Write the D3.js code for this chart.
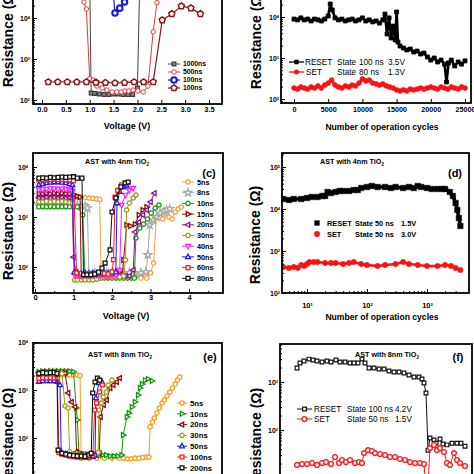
<!DOCTYPE html>
<html><head><meta charset="utf-8">
<script src="https://cdn.jsdelivr.net/npm/d3@7"></script>
<style>body{margin:0;background:#fff}svg{display:block}</style>
</head><body>
<svg id="chart" width="474" height="474"></svg>
<script>
// ================= DATA =================
// (a) Resistance vs voltage, pulse widths
const aTicksX=[0,0.5,1,1.5,2,2.5,3,3.5];
const aTicksY=[1e2,1e3,1e4];
const aLegend=["1000ns","500ns","100ns","100ns"];
const a1000=[[0.8,9e4],[1.0,9e4],[1.03,148],[1.1,144],[1.2,140],[1.3,136],[1.4,136],[1.5,140],[1.6,140],[1.7,136],[1.8,136],[1.9,136],[2.0,196],[2.05,9e4],[2.2,9e4]];
const a500=[[0.8,6e4],[0.88,2.45e4],[0.93,1.66e4],[1.0,330],[1.07,307],[1.15,219],[1.26,196],[1.36,175],[1.47,157],[1.57,157],[1.66,157],[1.74,166],[1.82,166],[1.91,175],[2.01,166],[2.12,157],[2.22,219],[2.33,4590],[2.41,23600],[2.5,6e4]];
const a100blue=[[1.47,8e4],[1.53,13200],[1.63,17400],[1.73,24500],[1.82,8e4]];
const a100pent=[[0.13,275],[0.33,275],[0.53,275],[0.73,275],[0.93,275],[1.13,270],[1.33,265],[1.53,260],[1.73,265],[1.93,275],[2.13,275],[2.33,275],[2.52,8900],[2.72,12600],[2.92,19500],[3.12,17400],[3.32,12600]];

// (b) endurance, linear cycles
const bTicksX=[0,5000,10000,15000,20000,25000];
const bTicksY=[1e2,1e3,1e4];
const bReset=[[0,8.9e3],[500,8.5e3],[1000,9.5e3],[1500,8.5e3],[2000,8.9e3],[2500,8.0e3],[3000,8.9e3],[3500,8.5e3],[4000,8.0e3],[4500,8.9e3],[5000,1.06e4],[5300,2.07e4],[5600,1.48e4],[6000,9.5e3],[6500,8.5e3],[7000,8.9e3],[7500,8.0e3],[8000,8.5e3],[8500,8.9e3],[9000,8.0e3],[9500,8.5e3],[10000,9.5e3],[10500,8.0e3],[11000,8.5e3],[11500,7.6e3],[12000,8.0e3],[12500,7.1e3],[13000,8.5e3],[13300,1.18e4],[13600,3.85e3],[13900,9.5e3],[14200,3.08e3],[14500,6.0e3],[14800,2.75e3],[15000,1.32e4],[15200,2.45e3],[15500,1.96e3],[16000,1.75e3],[16500,1.57e3],[17000,1.66e3],[17500,1.40e3],[18000,1.48e3],[18500,1.25e3],[19000,1.32e3],[19500,1.06e3],[20000,890],[20500,1000],[21000,800],[21500,890],[22000,710],[22300,260],[22600,760],[23000,890],[23500,640],[24000,800],[24500,710],[25000,850]];
const bSet=[[0,185],[500,175],[1000,196],[1500,185],[2000,175],[2500,196],[3000,185],[3500,208],[4000,185],[4500,219],[5000,245],[5500,290],[6000,219],[6500,196],[7000,185],[7500,208],[8000,196],[8500,219],[9000,208],[9500,245],[10000,308],[10500,275],[11000,290],[11500,245],[12000,232],[12500,219],[13000,232],[13500,208],[14000,196],[14500,185],[15000,166],[15500,157],[16000,166],[16500,157],[17000,175],[17500,166],[18000,175],[18500,185],[19000,175],[19500,185],[20000,196],[20500,185],[21000,175],[21500,196],[22000,185],[22500,175],[23000,196],[23500,185],[24000,175],[24500,196],[25000,185]];

// (c) AST with 4nm TiO2
const cTicksX=[0,1,2,3,4];
const cTicksY=[1e2,1e3,1e4];
const cLegend=["5ns","8ns","10ns","15ns","20ns","30ns","40ns","50ns","60ns","80ns"];
const c5=[[0.1,2.45e3],[0.2,2.45e3],[0.3,2.45e3],[0.4,2.45e3],[0.5,2.45e3],[0.6,2.45e3],[0.7,2.45e3],[0.8,2.45e3],[0.9,2.45e3],[1.0,2.45e3],[1.1,2.5e3],[1.2,2.5e3],[1.3,2.45e3],[1.4,2.4e3],[1.5,2.35e3],[1.6,2.3e3],[1.68,2.25e3],[1.72,63],[1.85,63],[2.0,63],[2.15,63],[2.3,63],[2.45,63],[2.6,63],[2.75,60],[2.9,60],[3.0,76],[3.08,120],[3.15,955],[3.24,1.0e3],[3.32,910],[3.4,1.15e3],[3.48,1.0e3],[3.56,910],[3.64,1.26e3],[3.72,1.45e3],[3.8,1.58e3]];
const c8=[[0.1,1.7e3],[0.3,1.7e3],[0.5,1.7e3],[0.7,1.7e3],[0.9,1.7e3],[1.1,1.68e3],[1.2,1.66e3],[1.3,1.66e3],[1.36,1.5e3],[1.4,76],[1.55,76],[1.7,76],[1.85,76],[2.0,76],[2.15,76],[2.3,76],[2.45,76],[2.6,76],[2.75,76],[2.88,79],[2.93,174],[2.98,690],[3.07,870],[3.16,1.0e3],[3.25,1.2e3],[3.35,1.3e3],[3.42,1.38e3],[3.5,1.45e3]];
const c10=[[0.1,1.6e3],[0.2,1.62e3],[0.3,1.6e3],[0.4,1.62e3],[0.5,1.6e3],[0.6,1.62e3],[0.7,1.6e3],[0.8,1.62e3],[0.9,1.6e3],[1.0,1.6e3],[1.1,1.6e3],[1.24,1.1e3],[1.3,60],[1.4,60],[1.5,60],[1.6,60],[1.7,60],[1.8,60],[1.9,60],[2.0,60],[2.1,60],[2.2,60],[2.3,60],[2.4,60],[2.5,60],[2.58,60],[2.62,380],[2.72,600],[2.82,720],[2.92,910],[3.02,1.2e3],[3.12,1.5e3],[3.22,1.74e3]];
const c15=[[0.1,2.9e3],[0.2,2.9e3],[0.3,3.0e3],[0.4,2.9e3],[0.5,3.0e3],[0.6,2.9e3],[0.7,3.0e3],[0.8,2.9e3],[0.9,2.9e3],[1.0,2.8e3],[1.1,2.6e3],[1.17,2.5e3],[1.2,72],[1.3,72],[1.4,69],[1.5,72],[1.6,72],[1.7,69],[1.8,72],[1.9,72],[2.0,72],[2.1,69],[2.2,72],[2.27,72],[2.3,138],[2.38,690],[2.48,660],[2.6,720],[2.7,1.1e3],[2.8,1.38e3],[2.9,1.58e3]];
const c20=[[0.1,2.4e3],[0.2,2.4e3],[0.3,2.45e3],[0.4,2.4e3],[0.5,2.45e3],[0.6,2.4e3],[0.7,2.45e3],[0.8,2.4e3],[0.9,2.4e3],[0.97,2.3e3],[1.0,158],[1.06,79],[1.15,66],[1.25,66],[1.35,66],[1.45,66],[1.55,66],[1.65,66],[1.75,66],[1.85,66],[1.95,69],[2.05,66],[2.15,66],[2.25,66],[2.35,66],[2.45,66],[2.55,87],[2.6,500],[2.7,790],[2.8,1.1e3],[2.9,1.38e3],[3.0,2.0e3],[3.1,3.0e3]];
const c30=[[0.1,2.0e3],[0.2,2.0e3],[0.3,2.05e3],[0.4,2.0e3],[0.5,2.05e3],[0.6,2.0e3],[0.7,2.05e3],[0.8,2.0e3],[0.9,1.95e3],[0.98,1.9e3],[1.03,55],[1.1,55],[1.2,55],[1.3,55],[1.4,55],[1.5,55],[1.6,57],[1.7,60],[1.8,63],[1.9,63],[2.0,63],[2.1,63],[2.2,63],[2.3,66],[2.35,138],[2.38,1.38e3],[2.45,1.9e3],[2.55,2.4e3],[2.62,2.75e3]];
const c40=[[0.1,3.5e3],[0.2,3.6e3],[0.3,3.6e3],[0.4,3.7e3],[0.5,3.7e3],[0.6,3.6e3],[0.7,3.7e3],[0.8,3.6e3],[0.9,3.5e3],[0.97,3.3e3],[1.03,69],[1.1,69],[1.2,66],[1.3,69],[1.4,66],[1.5,69],[1.6,69],[1.7,66],[1.8,69],[1.9,66],[2.0,69],[2.1,69],[2.2,87],[2.25,1.74e3],[2.35,2.75e3],[2.45,3.4e3],[2.55,3.8e3]];
const c50=[[0.1,4.4e3],[0.2,4.6e3],[0.3,4.8e3],[0.4,4.9e3],[0.5,5.0e3],[0.6,5.0e3],[0.7,4.9e3],[0.8,4.8e3],[0.9,4.6e3],[0.97,4.4e3],[1.02,79],[1.1,76],[1.2,74],[1.3,76],[1.4,74],[1.5,76],[1.6,74],[1.7,72],[1.8,74],[1.9,76],[2.0,74],[2.1,79],[2.13,1.9e3],[2.2,3.2e3],[2.3,4.0e3],[2.38,4.3e3]];
const c60=[[0.1,5.5e3],[0.2,5.6e3],[0.3,5.5e3],[0.4,5.6e3],[0.5,5.7e3],[0.6,5.6e3],[0.7,5.7e3],[0.8,5.6e3],[0.9,5.5e3],[1.0,5.3e3],[1.08,76],[1.2,74],[1.3,72],[1.4,74],[1.5,72],[1.6,74],[1.7,76],[1.8,74],[1.9,72],[2.0,80],[2.04,140],[2.08,2.5e3],[2.15,3.4e3],[2.25,4.4e3]];
const c80=[[0.1,6.0e3],[0.2,6.1e3],[0.3,6.0e3],[0.4,6.2e3],[0.5,6.1e3],[0.6,6.2e3],[0.7,6.3e3],[0.8,6.2e3],[0.9,6.3e3],[1.0,6.4e3],[1.1,6.0e3],[1.22,6.0e3],[1.26,70],[1.35,70],[1.45,70],[1.55,72],[1.65,79],[1.74,95],[1.82,120],[1.95,220],[2.0,1.26e3],[2.1,2.4e3],[2.23,4.0e3],[2.34,4.8e3],[2.42,5.0e3]];

// (d) endurance, log cycles, 4nm
const dTicksX=[10,100,1000];
const dTicksY=[1e2,1e3,1e4,1e5];
const dReset=[[4,1.73e4],[5,1.64e4],[6,1.73e4],[8,1.73e4],[10,1.83e4],[12,1.93e4],[15,1.93e4],[18,2.04e4],[20,2.04e4],[22,2.54e4],[25,2.4e4],[30,2.54e4],[35,2.69e4],[40,2.69e4],[50,2.69e4],[60,2.83e4],[70,2.83e4],[80,3.16e4],[100,3.34e4],[120,3.53e4],[150,3.34e4],[200,3.34e4],[250,3.16e4],[300,3.34e4],[400,3.16e4],[500,3.34e4],[600,3.16e4],[700,3.53e4],[800,3.34e4],[1000,3.16e4],[1200,3.0e4],[1500,3.0e4],[1800,3.0e4],[2000,3.0e4],[2400,2.54e4],[2700,2.04e4],[3000,1.39e4],[3200,9.5e3],[3400,6.1e3],[3600,3.94e3]];
const dSet=[[4,416],[5,394],[6,416],[7,394],[8,464],[9,440],[10,490],[11,547],[13,547],[15,547],[20,518],[25,518],[30,518],[40,490],[50,518],[60,547],[80,490],[100,464],[150,440],[200,464],[300,490],[400,547],[500,490],[700,464],[1000,440],[1500,440],[2000,464],[2500,440],[3000,394],[3600,353]];

// (e) AST with 8nm TiO2
const eTicksY=[1e2,1e3,1e4];
const eLegend=["5ns","10ns","20ns","30ns","50ns","100ns","200ns"];
const e5=[[0.1,2.05e3],[0.3,2.05e3],[0.5,2.05e3],[0.7,2.05e3],[0.8,2.05e3],[0.9,2.05e3],[1.0,2.05e3],[1.1,2.05e3],[1.17,2.0e3],[1.2,38],[1.4,38],[1.6,38],[1.8,38],[2.0,38],[2.2,38],[2.3,38],[2.4,37],[2.5,37],[2.6,38],[2.7,38],[2.8,39],[2.9,40],[2.96,40],[2.99,170],[3.05,215],[3.1,261],[3.17,331],[3.23,422],[3.3,536],[3.36,620],[3.43,750],[3.5,908],[3.57,1.1e3],[3.64,1.33e3],[3.7,1.61e3],[3.76,1.86e3]];
const e10=[[0.1,2.4e3],[0.2,2.45e3],[0.3,2.45e3],[0.4,2.5e3],[0.5,2.5e3],[0.6,2.5e3],[0.7,2.5e3],[0.8,2.5e3],[0.9,2.45e3],[1.0,2.4e3],[1.07,422],[1.1,237],[1.14,51],[1.25,46],[1.35,46],[1.45,44],[1.55,44],[1.65,44],[1.75,44],[1.85,44],[1.95,42],[2.05,42],[2.15,42],[2.25,44],[2.29,115],[2.39,274],[2.44,330],[2.52,443],[2.6,562],[2.68,787],[2.73,1.1e3],[2.78,1.33e3],[2.86,1.6e3],[2.94,1.7e3],[3.04,1.54e3]];
const e20=[[0.1,2.3e3],[0.2,2.35e3],[0.3,2.3e3],[0.4,2.35e3],[0.5,2.35e3],[0.6,2.3e3],[0.7,2.3e3],[0.78,2.25e3],[0.86,866],[0.95,560],[1.04,445],[1.08,51],[1.2,46],[1.3,44],[1.4,43],[1.5,43],[1.6,44],[1.67,48],[1.7,274],[1.78,487],[1.86,620],[1.95,1.1e3],[2.03,1.27e3],[2.12,1.47e3],[2.2,1.78e3]];
const e30=[[0.1,2.2e3],[0.2,2.25e3],[0.3,2.25e3],[0.4,2.3e3],[0.5,2.3e3],[0.6,2.25e3],[0.7,2.2e3],[0.78,465],[0.86,422],[0.9,52],[1.0,46],[1.1,44],[1.2,43],[1.3,42],[1.4,42],[1.5,43],[1.6,44],[1.64,50],[1.66,383],[1.72,535],[1.77,715],[1.85,910],[1.9,1.27e3],[2.0,1.6e3]];
const e50=[[0.1,1.5e3],[0.2,1.55e3],[0.3,1.54e3],[0.4,1.55e3],[0.5,1.54e3],[0.58,1.5e3],[0.65,1.27e3],[0.68,52],[0.8,46],[0.9,44],[1.0,42],[1.1,41],[1.2,41],[1.3,40],[1.4,40],[1.5,41],[1.56,44],[1.58,680],[1.66,1.4e3],[1.74,1.47e3]];
const e100=[[0.1,1.75e3],[0.2,1.8e3],[0.3,1.78e3],[0.4,1.8e3],[0.5,1.78e3],[0.58,1.75e3],[0.62,50],[0.7,46],[0.8,44],[0.9,42],[1.0,41],[1.1,40],[1.2,40],[1.3,40],[1.4,41],[1.5,44],[1.55,383],[1.6,535],[1.68,910],[1.75,1.27e3]];
const e200=[[0.1,2.2e3],[0.2,2.3e3],[0.3,2.25e3],[0.4,2.3e3],[0.5,2.3e3],[0.57,2.2e3],[0.6,56],[0.7,48],[0.8,46],[0.9,44],[1.0,43],[1.1,42],[1.2,42],[1.3,41],[1.4,44],[1.46,48],[1.5,866],[1.56,1.47e3],[1.62,1.78e3],[1.68,1.6e3]];

// (f) endurance, 8nm
const fTicksY=[1e2,1e3];
const fReset=[[3000,1.95e3],[3750,2.49e3],[4750,2.74e3],[6000,3.0e3],[7000,2.87e3],[8000,2.74e3],[9250,2.6e3],[10500,2.74e3],[11500,2.6e3],[12750,2.87e3],[13750,2.6e3],[15000,2.6e3],[16250,2.49e3],[17250,2.49e3],[18250,2.49e3],[19250,3.0e3],[20000,2.49e3],[21000,1.95e3],[22250,1.95e3],[23500,1.87e3],[24750,1.87e3],[26000,1.70e3],[27250,1.61e3],[28500,1.61e3],[29750,1.54e3],[31000,1.4e3],[32250,1.27e3],[33500,1.27e3],[34250,1.15e3],[34750,954],[35250,590],[35750,38],[36250,68],[37250,62],[37750,53],[38750,65],[39500,51],[40500,49],[41750,53],[43000,53],[44000,53],[45000,46]];
const fSet=[[3000,18.7],[4250,19.6],[5500,19.6],[6750,20.5],[8000,18.7],[9250,20.5],[10250,21.5],[11500,19.6],[12500,27.4],[13500,20.5],[14250,23.7],[15250,21.5],[16250,23.7],[17500,20.5],[18500,21.5],[19250,20.5],[19750,33],[20750,38],[21750,36.5],[22500,33],[23750,31.6],[25000,30.1],[26250,27.4],[27500,27.4],[28750,24.9],[30000,23.7],[31250,21.5],[32500,20.5],[33750,20.5],[34750,19.6],[35500,3],[36250,42],[37250,48.7],[38000,38],[38750,42],[39750,34.8],[40500,20.5],[41250,18.7],[42250,33],[43000,23.7],[43750,20.5],[45000,17.8]];

// ================= DRAWING =================
const FONT='"Liberation Sans", Arial, Helvetica, sans-serif';
const svg=d3.select('#chart').attr('font-family',FONT);
let clipN=0;

function poly(pts){return {draw(ctx,size){const r=Math.sqrt(size)*0.62;pts.forEach((p,i)=>{i?ctx.lineTo(p[0]*r,p[1]*r):ctx.moveTo(p[0]*r,p[1]*r);});ctx.closePath();}};}
const symTriR=poly([[1.15,0],[-0.7,1.0],[-0.7,-1.0]]);
const symTriL=poly([[-1.15,0],[0.7,1.0],[0.7,-1.0]]);
const symTriD=poly([[0,1.15],[1.0,-0.7],[-1.0,-0.7]]);
const symTriU=poly([[0,-1.15],[1.0,0.7],[-1.0,0.7]]);
const symPent=poly([[0,-1],[0.95,-0.31],[0.59,0.81],[-0.59,0.81],[-0.95,-0.31]]);

function frameAndClip(box){
  const id='clp'+(clipN++);
  svg.append('clipPath').attr('id',id).append('rect').attr('x',box.l).attr('y',box.t).attr('width',box.r-box.l).attr('height',box.b-box.t);
  return svg.append('g').attr('clip-path',`url(#${id})`);
}
function drawFrame(box){
  svg.append('rect').attr('x',box.l).attr('y',box.t).attr('width',box.r-box.l).attr('height',box.b-box.t)
    .attr('fill','none').attr('stroke','#000').attr('stroke-width',1.8);
}
function logMinors(lo,hi){
  const out=[];
  for(let n=Math.floor(Math.log10(lo));n<=Math.ceil(Math.log10(hi));n++){
    for(let k=2;k<=9;k++){const v=k*Math.pow(10,n); if(v>lo&&v<hi) out.push(v);}
  }
  return out;
}
function supLabels(sel,fs){
  sel.selectAll('.tick text').each(function(d){
    const t=d3.select(this); t.text(null);
    t.append('tspan').text('10');
    t.append('tspan').attr('dy','-0.5em').attr('font-size',fs*0.55).text(Math.round(Math.log10(d)));
  });
}
function yAxis(box,y,majors,pad,fs){
  const g=svg.append('g').attr('transform',`translate(${box.l},0)`);
  g.call(d3.axisLeft(y).tickValues(majors).tickSizeInner(-4).tickSizeOuter(0).tickPadding(pad).tickFormat(()=>''));
  g.select('.domain').remove();
  g.attr('font-family',FONT).attr('font-size',fs).attr('font-weight','bold');
  supLabels(g,fs);
  const lo=y.invert(Math.min(box.b,480)), hi=y.invert(Math.max(box.t,-5));
  const gm=svg.append('g').attr('transform',`translate(${box.l},0)`);
  gm.call(d3.axisLeft(y).tickValues(logMinors(lo,hi)).tickSizeInner(-2).tickSizeOuter(0).tickFormat(()=>''));
  gm.select('.domain').remove();
}
function xAxis(box,x,ticks,fmt,pad,fs,minors,sup){
  const g=svg.append('g').attr('transform',`translate(0,${box.b})`);
  g.call(d3.axisBottom(x).tickValues(ticks).tickSizeInner(-4).tickSizeOuter(0).tickPadding(pad).tickFormat(fmt));
  g.select('.domain').remove();
  g.attr('font-family',FONT).attr('font-size',fs).attr('font-weight','bold');
  if(sup) supLabels(g,fs);
  if(minors){
    const gm=svg.append('g').attr('transform',`translate(0,${box.b})`);
    gm.call(d3.axisBottom(x).tickValues(minors).tickSizeInner(-2).tickSizeOuter(0).tickFormat(()=>''));
    gm.select('.domain').remove();
  }
}
function series(g,data,x,y,o){
  g.append('path').datum(data).attr('fill','none').attr('stroke',o.line||o.color)
    .attr('stroke-width',o.lw||1).attr('stroke-linejoin','round')
    .attr('d',d3.line().x(d=>x(d[0])).y(d=>y(d[1])));
  g.selectAll(null).data(data).enter().append('path')
    .attr('transform',d=>`translate(${x(d[0])},${y(d[1])})`)
    .attr('d',d3.symbol().type(o.sym).size(o.size||16))
    .attr('fill',o.fill||'#fff').attr('stroke',o.color).attr('stroke-width',o.sw||1.2);
}
function legendItem(x0,x1,yy,o,label,tx,fs,weight){
  svg.append('line').attr('x1',x0).attr('x2',x1).attr('y1',yy).attr('y2',yy).attr('stroke',o.line||o.color).attr('stroke-width',o.lw||1);
  svg.append('path').attr('transform',`translate(${(x0+x1)/2},${yy})`).attr('d',d3.symbol().type(o.sym).size(o.size||16))
    .attr('fill',o.fill||'#fff').attr('stroke',o.color).attr('stroke-width',o.sw||1.2);
  if(label!==null) svg.append('text').attr('x',tx).attr('y',yy+fs*0.36).attr('font-size',fs).attr('font-weight',weight||'bold').text(label);
}
function txt(x,y,s,fs,opt){
  opt=opt||{};
  return svg.append('text').attr('x',x).attr('y',y).attr('font-size',fs).attr('font-weight',opt.w||'bold')
    .attr('text-anchor',opt.a||'start').text(s);
}
function yTitle(xb,yc){
  svg.append('text').attr('transform',`translate(${xb},${yc}) rotate(-90)`).attr('text-anchor','middle')
    .attr('font-size',14).attr('font-weight','bold').text('Resistance (\u03A9)');
}
function title(xc,yb,nm){
  const t=svg.append('text').attr('x',xc).attr('y',yb).attr('text-anchor','middle').attr('font-size',7.2).attr('font-weight','bold');
  t.append('tspan').text('AST with '+nm+' TiO');
  t.append('tspan').attr('dy',2).attr('font-size',4.5).text('2');
}

// ---------- Panel (a)
{
  const box={l:33,r:222,t:-40,b:104};
  const x=d3.scaleLinear().domain([0,3.5]).range([42,209]);
  const y=d3.scaleLog().domain([1e2,1e4]).range([100,18]);
  const g=frameAndClip(box);
  const sA={color:'#3a3a3a',fill:'#8a8a8a',sym:d3.symbolSquare,size:14,line:'#444'};
  const sB={color:'#e23a3a',sym:d3.symbolCircle,size:16,sw:1};
  const sC={color:'#1515e0',sym:d3.symbolCircle,size:24,sw:2,lw:1.2};
  const sD={color:'#8b1414',sym:symPent,size:26,sw:1.5,lw:1.2};
  series(g,a1000,x,y,sA); series(g,a500,x,y,sB); series(g,a100blue,x,y,sC); series(g,a100pent,x,y,sD);
  drawFrame(box);
  yAxis(box,y,aTicksY,3,7);
  xAxis(box,x,aTicksX,d3.format('.1f'),3,7.5,null,false);
  txt(127,129,'Voltage (V)',9,{a:'middle'});
  yTitle(13,38);
  const sty=[sA,sB,sC,sD];
  aLegend.forEach((lab,i)=>legendItem(168,180,64+i*8,sty[i],lab,183,6.8));
}

// ---------- Panel (b)
{
  const box={l:281,r:471,t:-40,b:103};
  const x=d3.scaleLinear().domain([0,25000]).range([294,465]);
  const y=d3.scaleLog().domain([1e2,1e4]).range([99,17]);
  const g=frameAndClip(box);
  const sR={color:'#000',fill:'#000',sym:d3.symbolSquare,size:16,lw:2.6,sw:0.8};
  const sS={color:'#ff1010',fill:'#ff1010',sym:d3.symbolCircle,size:18,lw:2.6,sw:0.8};
  series(g,bReset,x,y,sR); series(g,bSet,x,y,sS);
  drawFrame(box);
  yAxis(box,y,bTicksY,2,7);
  xAxis(box,x,bTicksX,d3.format('d'),4,7.2,null,false);
  txt(382,130,'Number of operation cycles',8.6,{a:'middle'});
  yTitle(261,40);
  legendItem(289,304,62,{color:'#000',fill:'#000',sym:d3.symbolSquare,size:10,lw:1.3},null);
  legendItem(289,304,72,{color:'#ff1010',fill:'#ff1010',sym:d3.symbolCircle,size:12,lw:1.3},null);
  txt(305,65,'RESET',8.2,{w:'normal'}); txt(337,65,'State',8.2,{w:'normal'}); txt(359,65,'100 ns',8.2,{w:'normal'}); txt(388,65,'3.5V',8.2,{w:'normal'});
  txt(306,75,'SET',8.2,{w:'normal'}); txt(337,75,'State',8.2,{w:'normal'}); txt(359,75,'80 ns',8.2,{w:'normal'}); txt(388,75,'1.3V',8.2,{w:'normal'});
}

// ---------- Panel (c)
const cColors=['#f7a13a','#a8a8a8','#109a10','#8b0a0a','#8a138a','#9a9a10','#ff20ff','#1a1aff','#ff1a1a','#111111'];
{
  const box={l:33,r:223,t:153,b:293};
  const x=d3.scaleLinear().domain([0,4]).range([35,189]);
  const y=d3.scaleLog().domain([1e2,1e4]).range([267,167]);
  const g=frameAndClip(box);
  const syms=[d3.symbolCircle,d3.symbolStar,d3.symbolCircle,symTriR,symTriL,d3.symbolCircle,symTriD,symTriU,d3.symbolSquare,d3.symbolSquare];
  const datas=[c5,c8,c10,c15,c20,c30,c40,c50,c60,c80];
  datas.forEach((d,i)=>series(g,d,x,y,{color:cColors[i],sym:syms[i],size:i===1?18:15,sw:1.3,lw:1}));
  drawFrame(box);
  yAxis(box,y,cTicksY,5,7);
  xAxis(box,x,cTicksX,d3.format('d'),2,7.5,[0.5,1.5,2.5,3.5,4.5],false);
  txt(126,319,'Voltage (V)',9,{a:'middle'});
  yTitle(13,231);
  title(117,164,'4nm');
  txt(209,177,'(c)',11,{a:'middle'});
  cLegend.forEach((lab,i)=>legendItem(182,194,182+i*10.7,{color:cColors[i],sym:syms[i],size:i===1?18:15,sw:1.3},lab,197,7.3));
}

// ---------- Panel (d)
{
  const box={l:282,r:469,t:153,b:293};
  const x=d3.scaleLog().domain([10,1000]).range([307,427]);
  const y=d3.scaleLog().domain([1e2,1e5]).range([293,167]);
  const g=frameAndClip(box);
  series(g,dReset,x,y,{color:'#000',fill:'#000',sym:d3.symbolSquare,size:30,lw:3.5,sw:0.5});
  series(g,dSet,x,y,{color:'#ff1010',fill:'#ff1010',sym:d3.symbolCircle,size:22,lw:2.5,sw:0.5});
  drawFrame(box);
  yAxis(box,y,dTicksY,2,7);
  xAxis(box,x,dTicksX,()=>'',10,7.5,logMinors(4,4000),true);
  txt(382,320,'Number of operation cycles',8.6,{a:'middle'});
  yTitle(260,235);
  title(352,164,'4nm');
  txt(455,177,'(d)',11,{a:'middle'});
  svg.append('path').attr('transform','translate(317,223)').attr('d',d3.symbol().type(d3.symbolSquare).size(28)).attr('fill','#000');
  svg.append('path').attr('transform','translate(317,234)').attr('d',d3.symbol().type(d3.symbolCircle).size(26)).attr('fill','#ff1010');
  txt(327,226,'RESET',7.4); txt(355,226,'State',7.4); txt(375,226,'50 ns',7.4); txt(401,226,'1.5V',7.4);
  txt(327,237,'SET',7.4); txt(355,237,'State',7.4); txt(375,237,'50 ns',7.4); txt(401,237,'3.0V',7.4);
}

// ---------- Panel (e)
const eColors=['#ff9a1a','#109a10','#8b0a0a','#a0a010','#1a1aff','#ff1a1a','#111111'];
{
  const box={l:33,r:222,t:343,b:520};
  const x=d3.scaleLinear().domain([0,4]).range([35,189]);
  const y=d3.scaleLog().domain([1e2,1e4]).range([438,342]);
  const g=frameAndClip(box);
  const syms=[d3.symbolCircle,symTriR,symTriL,d3.symbolCircle,symTriU,d3.symbolSquare,d3.symbolSquare];
  const datas=[e5,e10,e20,e30,e50,e100,e200];
  datas.forEach((d,i)=>series(g,d,x,y,{color:eColors[i],sym:syms[i],size:15,sw:1.3,lw:1}));
  drawFrame(box);
  yAxis(box,y,eTicksY,5,7);
  yTitle(13,437);
  title(120,357,'8nm');
  txt(210,361,'(e)',11,{a:'middle'});
  eLegend.forEach((lab,i)=>legendItem(177,187,403+i*10.8,{color:eColors[i],sym:syms[i],size:15,sw:1.3},lab,190,7.8));
}

// ---------- Panel (f)
{
  const box={l:280,r:472,t:344,b:520};
  const x=d3.scaleLinear().domain([0,50000]).range([285,485]);
  const y=d3.scaleLog().domain([1e2,1e3]).range([430,382]);
  const g=frameAndClip(box);
  const sR={color:'#111',sym:d3.symbolSquare,size:14,sw:1.2,lw:1};
  const sS={color:'#ff1a1a',sym:d3.symbolCircle,size:18,sw:1.4,lw:1};
  series(g,fReset,x,y,sR); series(g,fSet,x,y,sS);
  drawFrame(box);
  yAxis(box,y,fTicksY,2,7);
  yTitle(261,437);
  title(387,357,'8nm');
  txt(458,361,'(f)',11,{a:'middle'});
  legendItem(297,312,409,sR,null);
  legendItem(297,312,419,sS,null);
  txt(314,412,'RESET',8.2,{w:'normal'}); txt(347,412,'State 100 ns',8.2,{w:'normal'}); txt(395,412,'4.2V',8.2,{w:'normal'});
  txt(314,422,'SET',8.2,{w:'normal'}); txt(347,422,'State 50 ns',8.2,{w:'normal'}); txt(395,422,'1.5V',8.2,{w:'normal'});
}
</script>
</body></html>
